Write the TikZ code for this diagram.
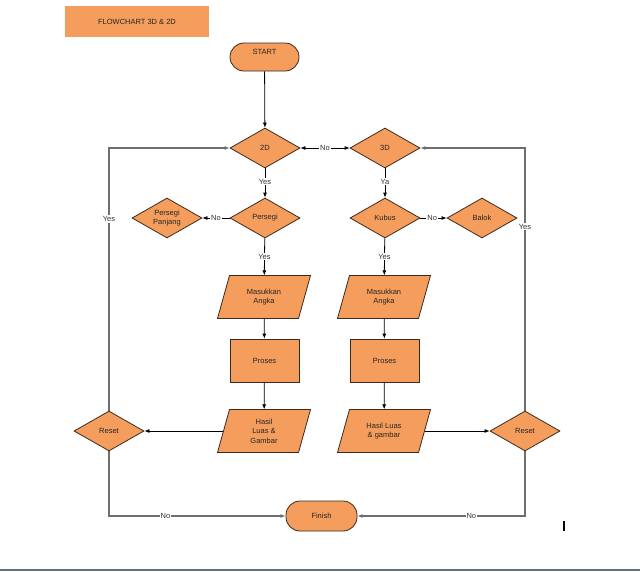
\documentclass[tikz,border=0pt]{standalone}
\usepackage{fontspec}
\setmainfont{Liberation Sans}
\usetikzlibrary{shapes.geometric,arrows.meta,calc}
\definecolor{orfill}{HTML}{F59D5C}
\definecolor{edge}{HTML}{3B2A1E}
\definecolor{loopc}{HTML}{6E6E6E}
\definecolor{baseln}{HTML}{5E7380}
\tikzset{
  shp/.style={fill=orfill, draw=edge, line width=0.8pt},
  txt/.style={font=\fontsize{7.5}{9.5}\selectfont, align=center, inner sep=0pt, text=black!85},
  dia/.style={shp, shape=diamond, minimum width=70pt, minimum height=40pt, inner sep=0pt},
  boxn/.style={shp, rectangle, minimum width=69pt, minimum height=43pt, inner sep=0pt},
  pbox/.style={rectangle, minimum width=81pt, minimum height=43pt, inner sep=0pt},
  term/.style={shp, rectangle, rounded corners=14pt, inner sep=0pt},
  arr/.style={draw=black, line width=0.8pt, -{Latex[length=5pt,width=4pt]}},
  loopl/.style={draw=loopc, line width=1.1pt, -{Latex[length=5pt,width=4pt]}},
  lab/.style={font=\fontsize{7.5}{9}\selectfont, fill=white, inner sep=1pt, text=black!80},
}
\newcommand\dianode[4]{%
  \node[dia] (#1) at (#2,#3) {};
  \node[txt] at (#1) {#4};}
\newcommand\parabox[4]{%
  \draw[shp] (#2-34.5,#3-21.5) -- (#2+46.5,#3-21.5) -- (#2+34.5,#3+21.5) -- (#2-46.5,#3+21.5) -- cycle;
  \node[pbox, txt, minimum width=81pt, minimum height=43pt] (#1) at (#2,#3) {#4};}
\begin{document}
\begin{tikzpicture}[x=1pt,y=-1pt]
\useasboundingbox (0,0) rectangle (640,571);
\fill[white] (0,0) rectangle (640,571);
% title
\node[fill=orfill, minimum width=144pt, minimum height=31pt, inner sep=0pt] (title) at (137,21.5) {};
\node[txt] at (title) {FLOWCHART 3D \& 2D};
% start
\node[term, minimum width=69pt, minimum height=28pt] (start) at (264.5,57) {};
\node[txt] at (264.5,51.5) {START};
% decisions
\dianode{d2}{265}{148}{2D}
\dianode{d3}{385}{148}{3D}
\dianode{persegi}{265}{218}{Persegi}
\dianode{pp}{167}{218}{Persegi\\Panjang}
\dianode{kubus}{385}{218}{Kubus}
\dianode{balok}{482}{218}{Balok}
% input
\parabox{m1}{264}{297}{Masukkan\\Angka}
\parabox{m2}{384}{297}{Masukkan\\Angka}
% process
\node[boxn] (p1) at (264.5,360.5) {};
\node[txt] at (p1) {Proses};
\node[boxn] (p2) at (384.5,360.5) {};
\node[txt] at (p2) {Proses};
% output
\parabox{h1}{264}{431}{Hasil\\Luas \&\\Gambar}
\parabox{h2}{384}{431}{Hasil Luas\\\& gambar}
% resets
\dianode{r1}{109}{431}{Reset}
\dianode{r2}{525}{431}{Reset}
% finish
\node[term, minimum width=71pt, minimum height=30pt] (fin) at (321.5,516) {};
\node[txt] at (fin) {Finish};
% connectors
\draw[arr] (start) -- (d2);
\draw[draw=black, line width=0.8pt, {Latex[length=5pt,width=4pt]}-{Latex[length=5pt,width=4pt]}] (d2.east) -- node[lab]{No} (d3.west);
\draw[arr] (d2) -- node[lab, pos=0.45]{Yes} (persegi);
\draw[arr] (d3) -- node[lab, pos=0.45]{Ya} (kubus);
\draw[arr] (persegi) -- node[lab, pos=0.5]{No} (pp);
\draw[arr] (kubus) -- node[lab, pos=0.45]{No} (balok);
\draw[arr] (persegi) -- node[lab, pos=0.5]{Yes} (m1);
\draw[arr] (kubus) -- node[lab, pos=0.5]{Yes} (m2);
\draw[arr] (m1) -- (p1);
\draw[arr] (m2) -- (p2);
\draw[arr] (p1) -- (h1);
\draw[arr] (p2) -- (h2);
\draw[arr] (h1.west) -- (r1.east);
\draw[arr] (h2.east) -- (r2.west);
\draw[loopl] (r1.north) -- node[lab, pos=0.73]{Yes} (r1.north |- d2.west) -- (d2.west);
\draw[loopl] (r2.north) -- node[lab, pos=0.7]{Yes} (r2.north |- d3.east) -- (d3.east);
\draw[loopl] (r1.south) -- (r1.south |- fin.west) -- node[lab, pos=0.32]{No} (fin.west);
\draw[loopl] (r2.south) -- (r2.south |- fin.east) -- node[lab, pos=0.32]{No} (fin.east);
% stray marks
\draw[black, line width=1.8pt] (564,521) -- (564,531);
\fill[baseln] (0,568.5) rectangle (640,571);
\end{tikzpicture}
\end{document}
